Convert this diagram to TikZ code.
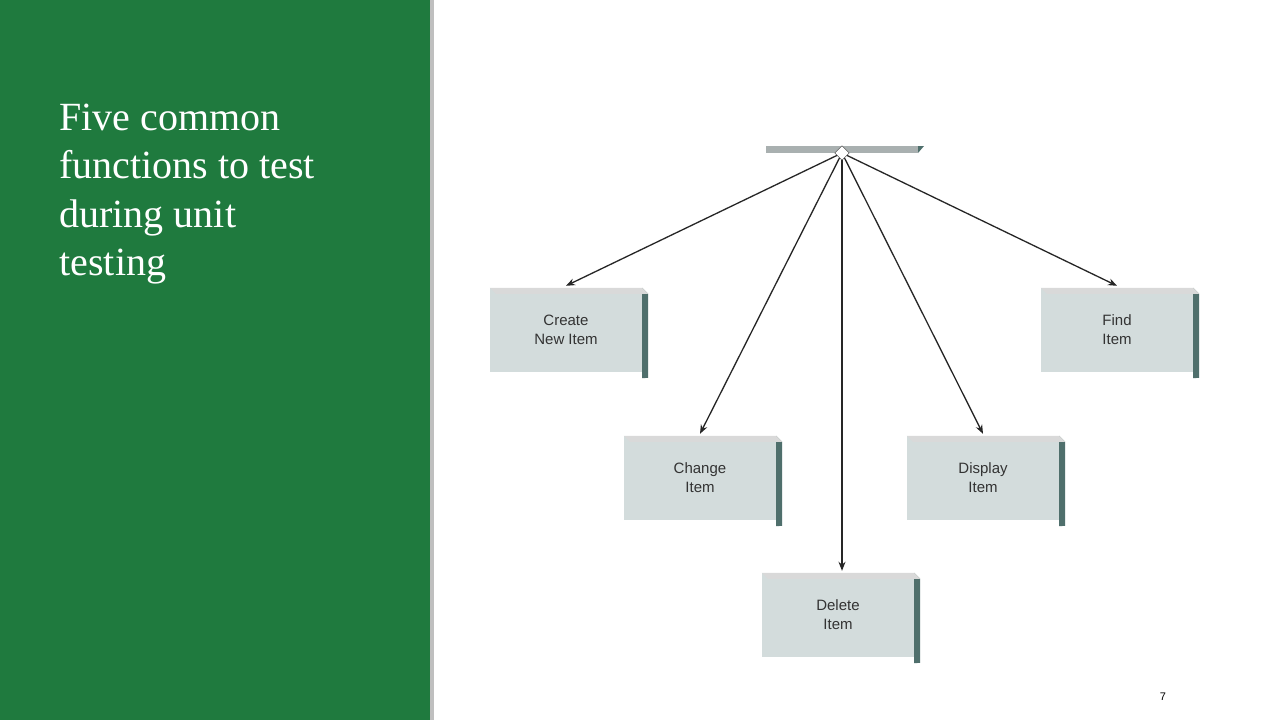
\documentclass[tikz,border=0pt]{standalone}
\usepackage{fontspec}
\setmainfont{Liberation Serif}
\newfontfamily\sansf{Liberation Sans}
\usetikzlibrary{arrows.meta}
\definecolor{grn}{HTML}{1F7A3E}
\definecolor{boxf}{HTML}{D3DCDC}
\definecolor{boxs}{HTML}{4F6F6C}
\tikzset{
 fbox/.style={fill=boxf,draw=none,minimum width=152pt,minimum height=84pt,inner sep=0pt,font=\sansf\fontsize{15}{19}\selectfont,text=black!80,align=center},
 conn/.style={draw=black!85,line width=1.3pt,-{Stealth[length=9pt,width=7pt]}}
}
\newcommand{\fbx}[4]{%
 \node[fbox] (#1) at (#2,#3) {#4};
 \fill[boxs] (#1.north east) -- ++(6pt,-6pt) -- ++(0,-84pt) -- ([yshift=-6pt]#1.south east) -- cycle;
 \fill[black!15] (#1.north west) -- (#1.north east) -- ++(6pt,-6pt) -- ([xshift=6pt,yshift=-6pt]#1.north west) -- cycle;
}
\begin{document}
\begin{tikzpicture}[x=1pt,y=-1pt]
\useasboundingbox (0,0) rectangle (1280,720);
\fill[white] (0,0) rectangle (1280,720);
\fill[grn] (0,0) rectangle (430,720);
\fill[black!25] (430,0) rectangle (434,720);
\node[anchor=north west,align=left,text=white,font=\fontsize{40}{48.5}\selectfont] (title) at (56,100) {Five common\\functions to test\\during unit\\testing};
\fill[boxf!80!black] (766,146) rectangle (918,153);
\fill[boxs] (918,146) -- (924,146) -- (918,153) -- cycle;
\node[draw=black!70,fill=white,rotate=45,minimum size=10pt,inner sep=0pt] (dia) at (842,153) {};
\fbx{create}{566}{330}{Create\\New Item}
\fbx{find}{1117}{330}{Find\\Item}
\fbx{change}{700}{478}{Change\\Item}
\fbx{display}{983}{478}{Display\\Item}
\fbx{delete}{838}{615}{Delete\\Item}
\draw[conn] (dia.center) -- ([yshift=2pt]create.north);
\draw[conn] (dia.center) -- ([yshift=2pt]find.north);
\draw[conn] (dia.center) -- ([yshift=2pt]change.north);
\draw[conn] (dia.center) -- ([yshift=2pt]display.north);
\draw[conn] (dia.center) -- ([xshift=4pt,yshift=2pt]delete.north);
\node[draw=black!70,fill=white,rotate=45,minimum size=10pt,inner sep=0pt] at (dia) {};
\node[font=\sansf\fontsize{11}{13}\selectfont] (pg) at (1163,697) {7};
\end{tikzpicture}
\end{document}
